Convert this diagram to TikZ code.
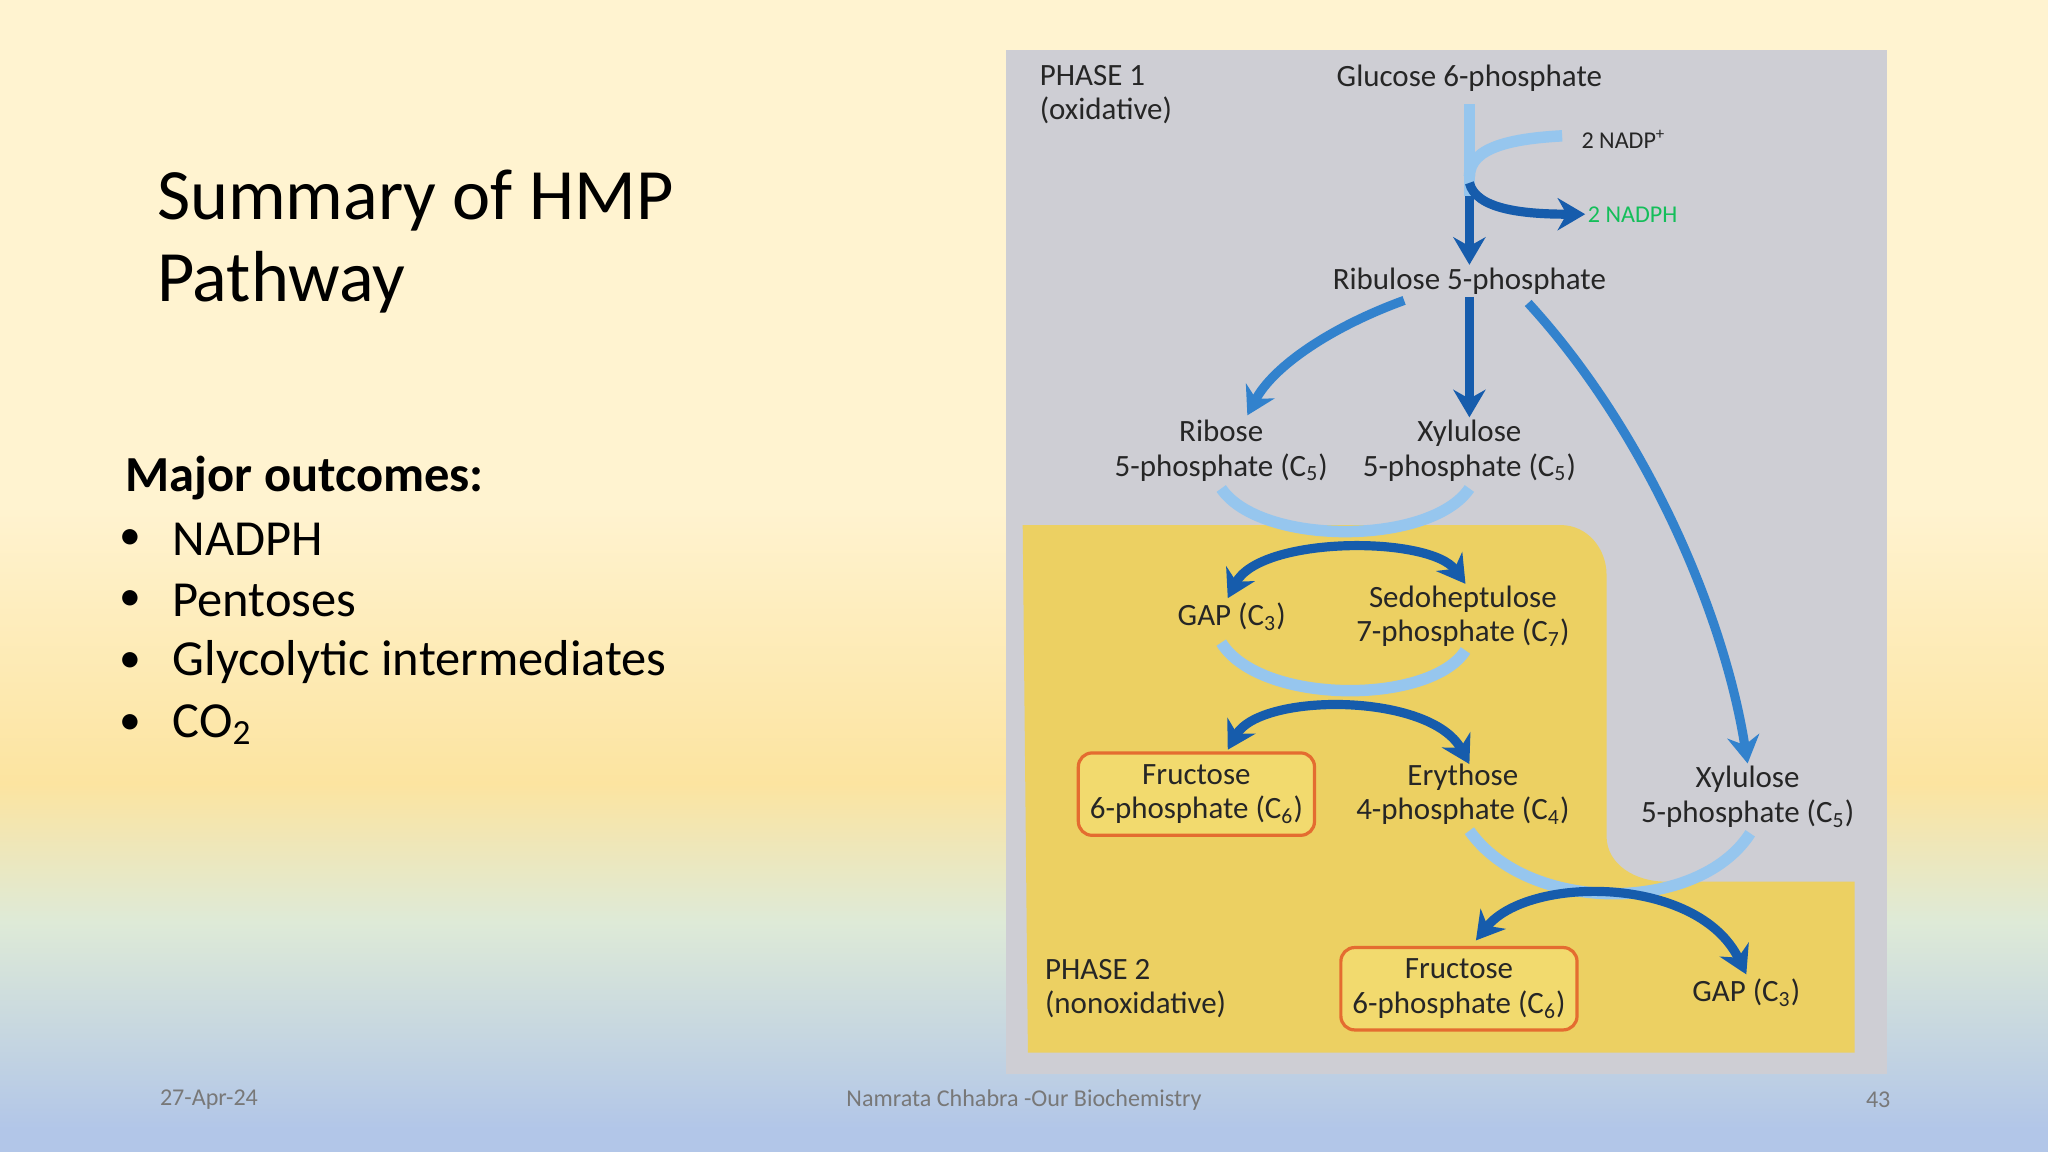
\documentclass[tikz,border=0pt]{standalone}
\usepackage{fontspec}
\setmainfont{Carlito}
\setsansfont{Carlito}
\usetikzlibrary{arrows.meta}
\definecolor{bgA}{RGB}{255,243,208}
\definecolor{bgB}{RGB}{252,228,160}
\definecolor{bgC}{RGB}{222,234,215}
\definecolor{bgD}{RGB}{178,198,232}
\definecolor{panel}{RGB}{206,206,212}
\definecolor{yel}{RGB}{236,208,98}
\definecolor{boxy}{RGB}{242,218,110}
\definecolor{orng}{RGB}{228,108,48}
\definecolor{lightb}{RGB}{150,198,238}
\definecolor{darkb}{RGB}{22,92,172}
\definecolor{midb}{RGB}{50,130,205}
\definecolor{grn}{RGB}{20,190,90}
\definecolor{foot}{RGB}{120,120,120}
\pgfdeclareverticalshading{bgsh}{100bp}{color(0bp)=(bgD);color(26bp)=(bgD);color(35bp)=(bgC);color(41bp)=(bgB);color(53bp)=(bgA);color(100bp)=(bgA)}
\tikzset{
 lab/.style={font=\fontsize{13.5}{15}\selectfont, text=black!85, align=center, inner sep=1pt},
 cbox/.style={lab, fill=boxy, draw=orng, line width=1.4pt, rounded corners=6pt, inner sep=5pt},
 lt/.style={lightb, line width=5pt},
 dk/.style={darkb, line width=4pt, -{Stealth[length=12pt,width=14pt]}},
 dk2/.style={darkb, line width=4pt, {Stealth[length=12pt,width=14pt]}-{Stealth[length=12pt,width=14pt]}},
 md/.style={midb, line width=4pt, -{Stealth[length=12pt,width=14pt]}}
}
\begin{document}
\begin{tikzpicture}[x=0.02cm,y=-0.02cm]
\useasboundingbox (0,0) rectangle (1568,882);
\shade[shading=bgsh] (0,0) rectangle (1568,882);
% panel
\fill[panel] (770,38) rectangle (1445,822);
\fill[yel] (783,402) -- (1195,402) to[out=0,in=90] (1230,440) -- (1230,640) to[out=-90,in=180] (1275,675) -- (1420,675) -- (1420,806) -- (787,806) -- cycle;
% title
\node[anchor=west, font=\fontsize{31.5}{36}\selectfont, align=left] (title) at (114,185) {Summary of HMP\\Pathway};
\node[anchor=west, font=\bfseries\fontsize{22}{26}\selectfont] (mo) at (90,366) {Major outcomes:};
\foreach \t/\y [count=\i] in {NADPH/413, Pentoses/460, Glycolytic intermediates/507, CO\textsubscript{2}/555}{
 \node[font=\fontsize{19}{22}\selectfont] (b\i) at (100,\y) {•};
 \node[anchor=west, font=\fontsize{22}{26}\selectfont] (t\i) at (126,\y) {\t};
}
% footer
\node[font=\fontsize{10.5}{12}\selectfont, text=foot] (date) at (160,842) {27-Apr-24};
\node[font=\fontsize{10.5}{12}\selectfont, text=foot] (auth) at (784,842) {Namrata Chhabra -Our Biochemistry};
\node[font=\fontsize{10.5}{12}\selectfont, text=foot] (pg) at (1438,842) {43};
% labels
\node[lab, anchor=north west, align=left] (ph1) at (794,48) {PHASE 1\\(oxidative)};
\node[lab] (g6p) at (1125,60) {Glucose 6-phosphate};
\node[lab, font=\fontsize{10.5}{12}\selectfont] (nadp) at (1243,107) {2 NADP\textsuperscript{+}};
\node[lab, font=\fontsize{10.5}{12}\selectfont, text=grn] (nadph) at (1250,164) {2 NADPH};
\node[lab] (ru5p) at (1125,215) {Ribulose 5-phosphate};
\node[lab] (r5p) at (935,345) {Ribose\\5-phosphate (C\textsubscript{5})};
\node[lab] (xu5p) at (1125,345) {Xylulose\\5-phosphate (C\textsubscript{5})};
\node[lab] (gap1) at (943,472) {GAP (C\textsubscript{3})};
\node[lab] (s7p) at (1120,472) {Sedoheptulose\\7-phosphate (C\textsubscript{7})};
\node[cbox] (f6p1) at (916,608) {Fructose\\6-phosphate (C\textsubscript{6})};
\node[lab] (e4p) at (1120,608) {Erythose\\4-phosphate (C\textsubscript{4})};
\node[lab] (xu5p2) at (1338,610) {Xylulose\\5-phosphate (C\textsubscript{5})};
\node[lab, anchor=west, align=left] (ph2) at (798,757) {PHASE 2\\(nonoxidative)};
\node[cbox] (f6p2) at (1117,757) {Fructose\\6-phosphate (C\textsubscript{6})};
\node[lab] (gap2) at (1337,760) {GAP (C\textsubscript{3})};
% oxidative arrows
\draw[lightb, line width=5pt] (1125,80) -- (1125,150);
\draw[lightb, line width=5pt] (1125,135) .. controls (1125,112) and (1160,106) .. (1196,104);
\draw[dk] (1125,140) .. controls (1130,160) and (1165,164) .. (nadph.west);
\draw[dk] (1125,150) -- (ru5p.north);
\draw[md] (1075,230) .. controls (1020,250) and (975,280) .. (955,318);
\draw[dk] (ru5p.south) -- (xu5p.north);
\draw[md] (1170,232) .. controls (1260,330) and (1320,470) .. (xu5p2.north);
% crossing 1
\draw[lt] (935,374) .. controls (965,418) and (1095,418) .. (1125,374);
\draw[dk2] (940,458) .. controls (965,410) and (1095,410) .. (1122,447);
% crossing 2
\draw[lt] (935,492) .. controls (965,540) and (1095,540) .. (1122,498);
\draw[dk2] (940,574) .. controls (965,530) and (1095,530) .. (1125,585);
% crossing 3
\draw[lt] (1125,636) .. controls (1170,700) and (1300,700) .. (1340,638);
\draw[dk2] (1130,720) .. controls (1170,670) and (1300,670) .. (1337,746);
\end{tikzpicture}
\end{document}
